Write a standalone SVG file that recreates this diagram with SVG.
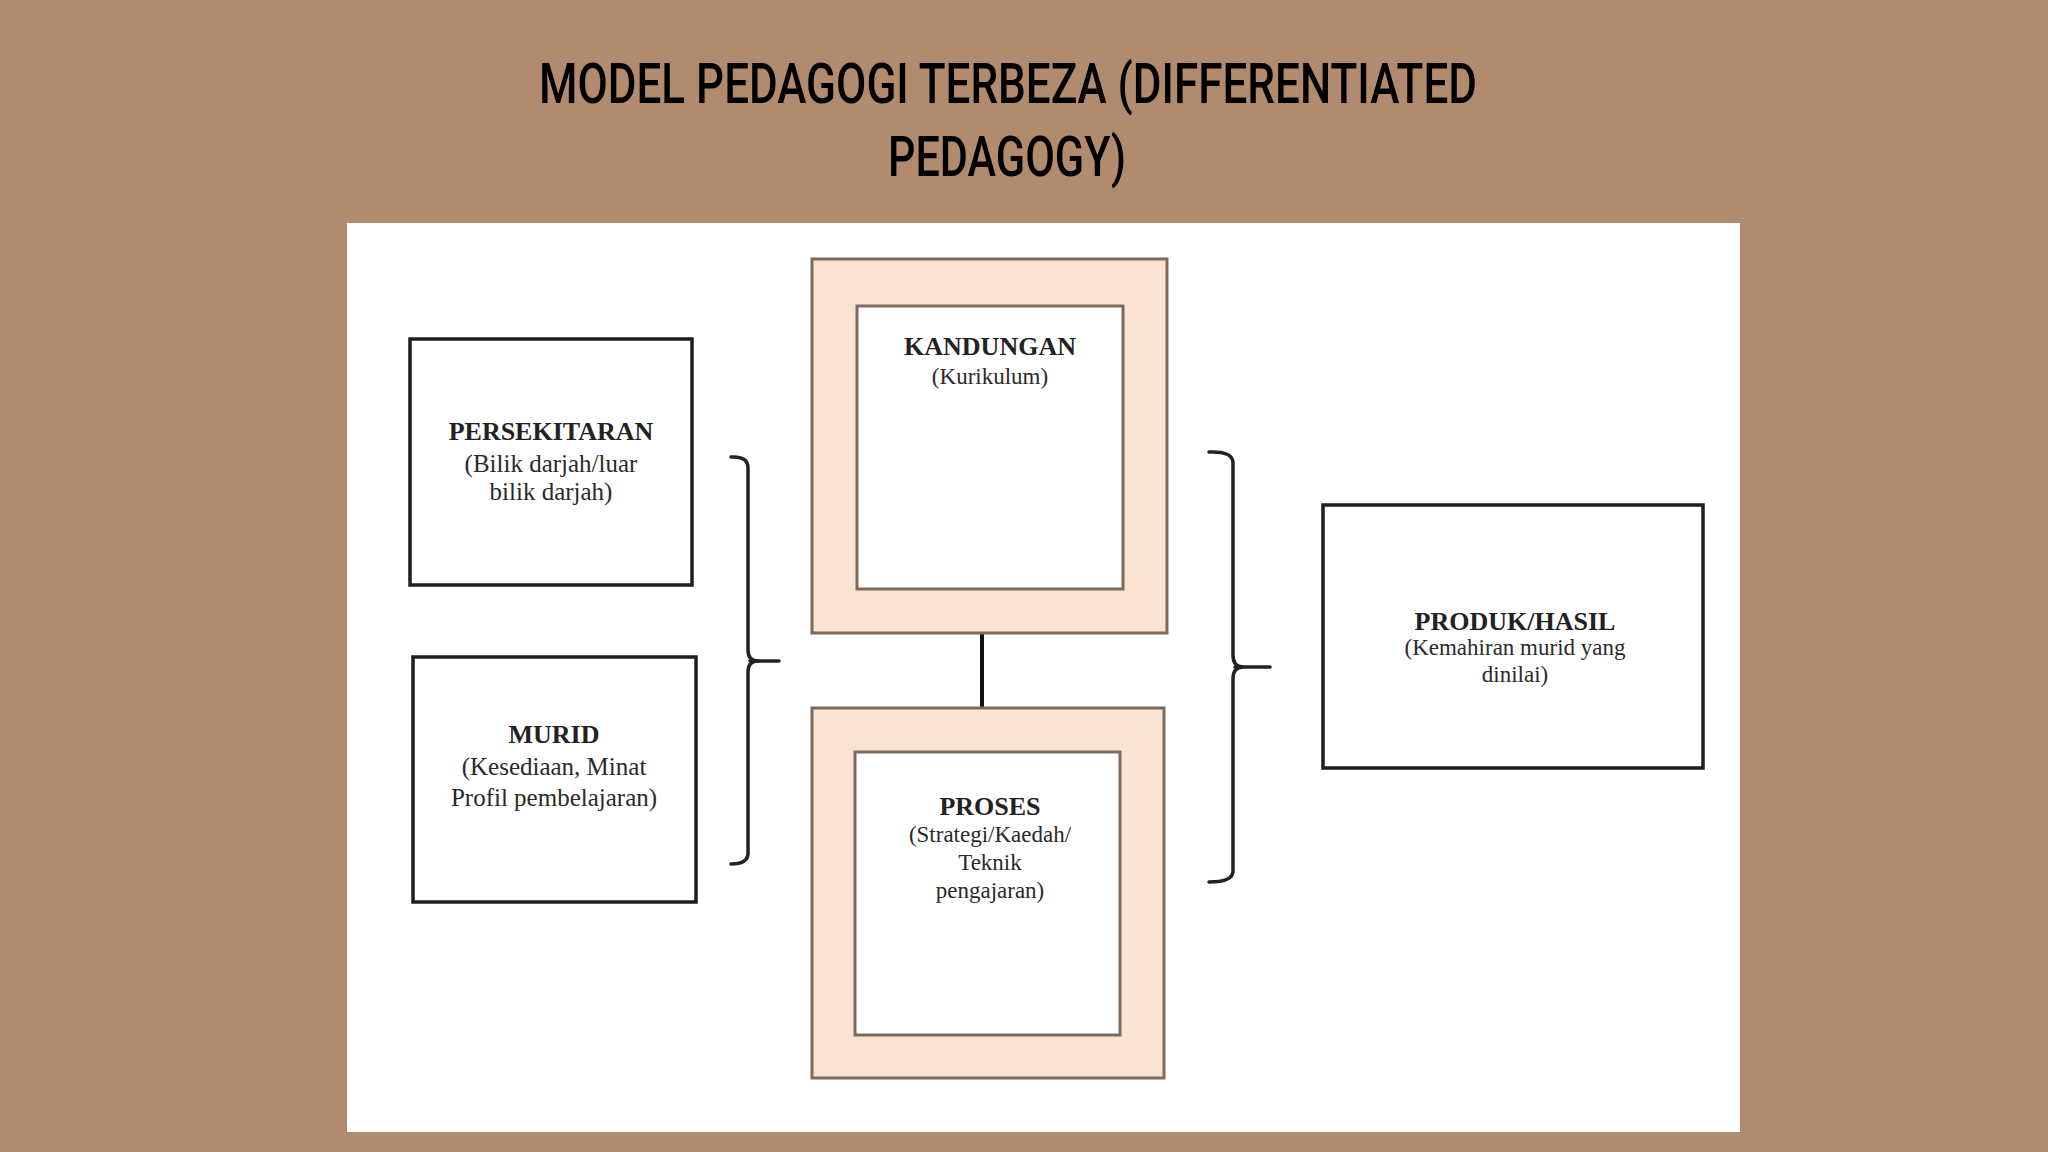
<svg xmlns="http://www.w3.org/2000/svg" width="2048" height="1152" viewBox="0 0 2048 1152">
  <style>
    .title { font-family: Roboto, "DejaVu Sans Condensed", "Liberation Sans", sans-serif; font-weight: 500; font-size: 56px; fill: #000; text-anchor: middle; }
    .box { fill: #ffffff; stroke: #1e1e1e; stroke-width: 3.5; }
    .outer { fill: #FBE3D2; stroke: #7d6a5c; stroke-width: 3; }
    .inner { fill: #ffffff; stroke: #7d6a5c; stroke-width: 3; }
    .h { font-family: "Liberation Serif", "Times New Roman", serif; font-weight: bold; font-size: 26px; fill: #222; text-anchor: middle; }
    .s { font-family: "Liberation Serif", "Times New Roman", serif; font-size: 25px; fill: #2a2a2a; text-anchor: middle; }
    .s2 { font-family: "Liberation Serif", "Times New Roman", serif; font-size: 23px; fill: #2a2a2a; text-anchor: middle; }
    .br { fill: none; stroke: #222; stroke-width: 3.5; stroke-linecap: round; stroke-linejoin: round; }
    .link { stroke: #111; stroke-width: 4; }
  </style>
  <rect x="0" y="0" width="2048" height="1152" fill="#B28B6E"/>
  <g id="title">
    <text class="title" x="1008" y="103" textLength="938" lengthAdjust="spacingAndGlyphs">MODEL PEDAGOGI TERBEZA (DIFFERENTIATED</text>
    <text class="title" x="1007" y="176" textLength="238" lengthAdjust="spacingAndGlyphs">PEDAGOGY)</text>
  </g>
  <rect id="panel" x="347" y="223" width="1393" height="909" fill="#ffffff"/>

  <g id="connectors">
    <path class="br" d="M731 457 Q748 456 748 468 L748 650 Q748 661 758 661 Q748 661 748 672 L748 853 Q748 864 731 864"/>
    <line class="br" x1="750" y1="661" x2="779" y2="661"/>
    <path class="br" d="M1209 452 Q1233 451 1233 463 L1233 655 Q1233 667 1243 667 Q1233 667 1233 679 L1233 871 Q1233 882 1209 882"/>
    <line class="br" x1="1235" y1="667" x2="1270" y2="667"/>
    <line class="link" x1="982" y1="628" x2="982" y2="709"/>
  </g>

  <g id="node-persekitaran">
    <rect class="box" x="410" y="339" width="282" height="246"/>
    <text class="h" x="551" y="440">PERSEKITARAN</text>
    <text class="s" x="551" y="472">(Bilik darjah/luar</text>
    <text class="s" x="551" y="500">bilik darjah)</text>
  </g>

  <g id="node-murid">
    <rect class="box" x="413" y="657" width="283" height="245"/>
    <text class="h" x="554" y="743">MURID</text>
    <text class="s" x="554" y="775">(Kesediaan, Minat</text>
    <text class="s" x="554" y="806">Profil pembelajaran)</text>
  </g>

  <g id="node-kandungan">
    <rect class="outer" x="812" y="259" width="355" height="374"/>
    <rect class="inner" x="857" y="306" width="266" height="283"/>
    <text class="h" x="990" y="355">KANDUNGAN</text>
    <text class="s2" x="990" y="384">(Kurikulum)</text>
  </g>

  <g id="node-proses">
    <rect class="outer" x="812" y="708" width="352" height="370"/>
    <rect class="inner" x="855" y="752" width="265" height="283"/>
    <text class="h" x="990" y="815">PROSES</text>
    <text class="s2" x="990" y="842">(Strategi/Kaedah/</text>
    <text class="s2" x="990" y="870">Teknik</text>
    <text class="s2" x="990" y="898">pengajaran)</text>
  </g>

  <g id="node-produk">
    <rect class="box" x="1323" y="505" width="380" height="263"/>
    <text class="h" x="1515" y="630">PRODUK/HASIL</text>
    <text class="s2" x="1515" y="655">(Kemahiran murid yang</text>
    <text class="s2" x="1515" y="682">dinilai)</text>
  </g>
</svg>
